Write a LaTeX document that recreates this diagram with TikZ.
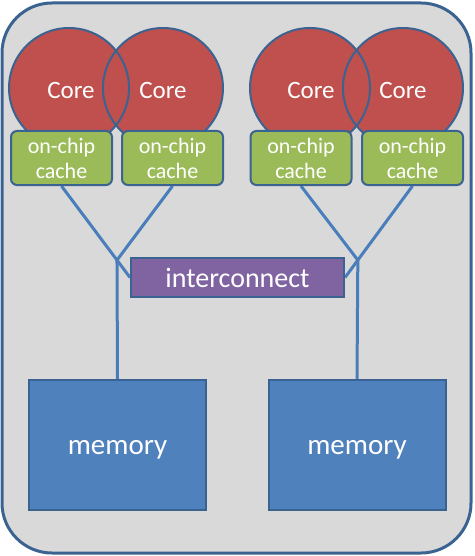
\documentclass[tikz,border=0pt]{standalone}
\usepackage{fontspec}
\setmainfont{Carlito}
\usetikzlibrary{backgrounds,calc}
\definecolor{frame}{HTML}{3B6391}
\definecolor{panel}{HTML}{D9D9D9}
\definecolor{corered}{HTML}{C0504D}
\definecolor{cachegreen}{HTML}{9BBB59}
\definecolor{icpurple}{HTML}{8064A2}
\definecolor{memblue}{HTML}{4F81BD}
\definecolor{wire}{HTML}{4A7EBB}
\tikzset{
  corefill/.style={circle, minimum size=120pt, inner sep=0pt, fill=corered},
  coreline/.style={circle, minimum size=120pt, inner sep=0pt, draw=frame, line width=2pt},
  coretext/.style={text=white, inner sep=0pt, font=\fontsize{25}{30}\selectfont},
  cachebox/.style={rectangle, rounded corners=6pt, minimum width=101pt, minimum height=54pt, fill=cachegreen, draw=frame, line width=2pt, text=white, align=center, inner sep=0pt, font=\fontsize{22}{25}\selectfont},
  icbox/.style={rectangle, minimum width=213pt, minimum height=39pt, fill=icpurple, draw=frame, line width=2pt, text=white, inner sep=0pt, font=\fontsize{28}{32}\selectfont},
  membox/.style={rectangle, minimum width=177pt, minimum height=130pt, fill=memblue, draw=frame, line width=2pt},
  memtext/.style={text=white, inner sep=0pt, font=\fontsize{29}{34}\selectfont},
  wireline/.style={draw=wire, line width=3pt}
}
\begin{document}
\begin{tikzpicture}[x=1pt,y=-1pt]
\useasboundingbox (0,0) rectangle (474,556);
% cores
\node[corefill] (core1) at (69,88) {};
\node[corefill] (core2) at (163,88) {};
\node[corefill] (core3) at (310,88) {};
\node[corefill] (core4) at (403,88) {};
\node[coreline] (core1o) at (core1) {};
\node[coreline] (core2o) at (core2) {};
\node[coreline] (core3o) at (core3) {};
\node[coreline] (core4o) at (core4) {};
\node[coretext] (core1t) at ($(core1)+(2,2)$) {Core};
\node[coretext] (core2t) at ($(core2)+(0,2)$) {Core};
\node[coretext] (core3t) at ($(core3)+(1,2)$) {Core};
\node[coretext] (core4t) at ($(core4)+(0,2)$) {Core};
% caches
\node[cachebox] (cache1) at (61.5,158) {on-chip\\cache};
\node[cachebox] (cache2) at (172.5,158) {on-chip\\cache};
\node[cachebox] (cache3) at (301,158) {on-chip\\cache};
\node[cachebox] (cache4) at (412.5,158) {on-chip\\cache};
% interconnect and memory
\node[icbox] (inter) at (237.5,277.5) {interconnect};
\node[membox] (mem1) at (117.5,445) {};
\node[membox] (mem2) at (357,445) {};
\node[memtext] (mem1t) at ($(mem1)+(0,5)$) {memory};
\node[memtext] (mem2t) at ($(mem2)+(0,5)$) {memory};
\coordinate (j1) at ($(cache1.south)!0.81!(inter.west)$);
\coordinate (j2) at ($(cache4.south)!0.81!(inter.east)$);
\begin{scope}[on background layer]
\draw[frame, fill=panel, line width=3pt, rounded corners=50pt] (2,3) rectangle (471,553);
\draw[wireline] (cache1.south) -- (inter.west);
\draw[wireline] (cache2.south) -- (j1) -- (mem1.north);
\draw[wireline] (cache4.south) -- (inter.east);
\draw[wireline] (cache3.south) -- (j2) -- (mem2.north);
\end{scope}
\end{tikzpicture}
\end{document}
